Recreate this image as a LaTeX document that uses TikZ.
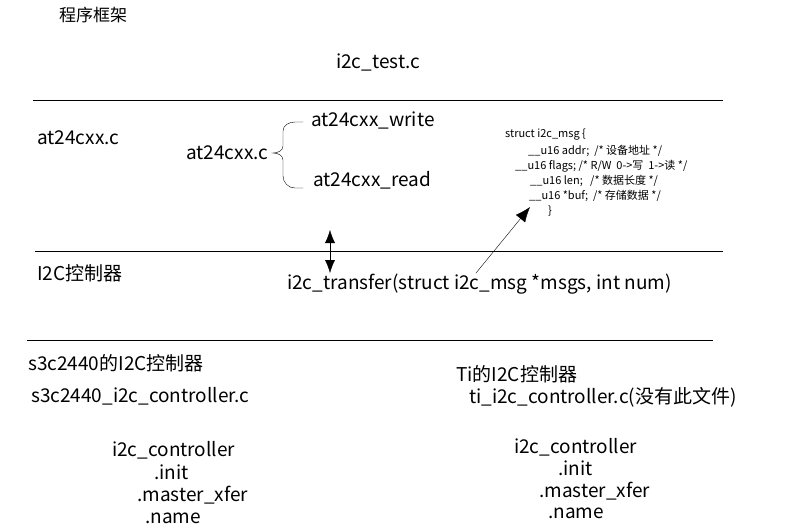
\documentclass[tikz,border=0pt]{standalone}
\usepackage{fontspec}
\setmainfont{Noto Sans CJK SC}
\usetikzlibrary{arrows.meta}
\tikzset{label text/.style={anchor=west, inner sep=0pt, font=\fontsize{19}{22}\selectfont}}
\tikzset{code text/.style={anchor=west, inner sep=0pt, font=\fontsize{11}{13}\selectfont}}
\tikzset{layer line/.style={line width=0.8pt}}

\begin{document}
\begin{tikzpicture}[x=1pt, y=-1pt]
\useasboundingbox (0,0) rectangle (800,531);

\node[label text, font=\fontsize{17}{20}\selectfont] (title) at (59,15) {程序框架};
\node[label text] (test) at (336,62) {i2c\_test.c};
\draw[layer line] (33,100) -- (723,100);

\node[label text] (drv) at (37,138) {at24cxx.c};
\node[label text] (drvfile) at (186,153) {at24cxx.c};
\node[label text] (write) at (311,120) {at24cxx\_write};
\node[label text] (read) at (313,180) {at24cxx\_read};
\draw (303,122) -- (295,122) to[out=180,in=90] (283,131) -- (283,146)
  to[out=-90,in=0] (273,153) to[out=0,in=90] (283,160) -- (283,176)
  to[out=-90,in=180] (295,188) -- (303,188);

\node[code text] (msg0) at (505,135) {struct i2c\_msg \{};
\node[code text] (msg1) at (528,151) {\_\_u16 addr;\ \ /* 设备地址 */};
\node[code text] (msg2) at (515,166) {\_\_u16 flags; /* R/W\ \ 0->写\ \ 1->读 */};
\node[code text] (msg3) at (530,181) {\_\_u16 len;\ \ \ /* 数据长度 */};
\node[code text] (msg4) at (529,196) {\_\_u16 *buf;\ \ /* 存储数据 */};
\node[code text] (msg5) at (548,211) {\}};

\draw[layer line] (35,251) -- (723,251);
\node[label text] (ctrl) at (37,273) {I2C控制器};
\node[label text] (xfer) at (287,284) {i2c\_transfer(struct i2c\_msg *msgs, int num)};

\coordinate (up) at (330,230);
\coordinate (down) at (330,273);
\draw[{Latex[length=13pt,width=10pt]}-{Latex[length=13pt,width=10pt]}] (up) -- (down);
\coordinate (msgarg) at (476,273);
\coordinate (msgdef) at (530,207);
\draw[-{Latex[length=15pt,width=12pt]}] (msgarg) -- (msgdef);

\draw[layer line] (27,340) -- (713,340);

\node[label text] (s3c) at (28,363) {s3c2440的I2C控制器};
\node[label text] (s3cfile) at (31,396) {s3c2440\_i2c\_controller.c};
\node[label text] (s3cstruct) at (112,450) {i2c\_controller};
\node[label text] (s3cinit) at (154,472) {.init};
\node[label text] (s3cxfer) at (137,495) {.master\_xfer};
\node[label text] (s3cname) at (145,518) {.name};

\node[label text] (ti) at (456,374) {Ti的I2C控制器};
\node[label text] (tifile) at (469,397) {ti\_i2c\_controller.c(没有此文件)};
\node[label text] (tistruct) at (514,447) {i2c\_controller};
\node[label text] (tiinit) at (558,468) {.init};
\node[label text] (tixfer) at (539,491) {.master\_xfer};
\node[label text] (tiname) at (548,513) {.name};

\end{tikzpicture}
\end{document}
